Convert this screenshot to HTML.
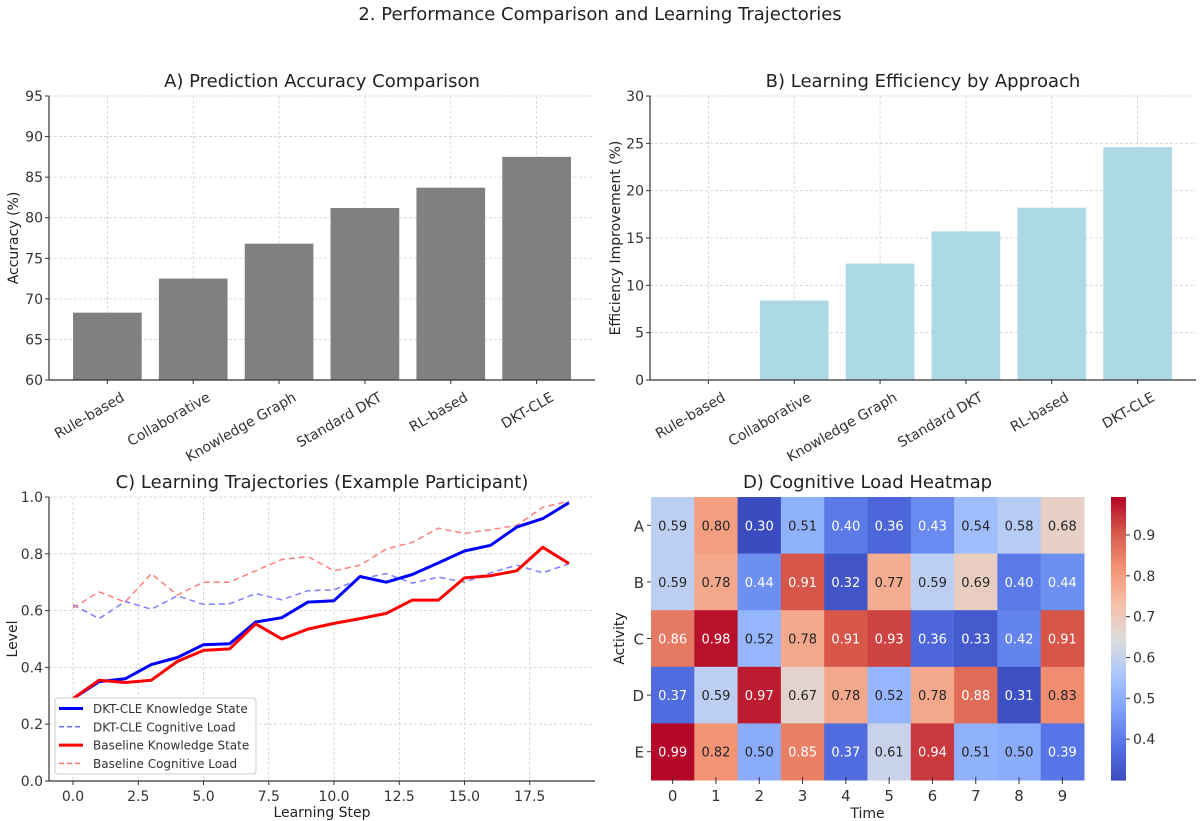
<!DOCTYPE html>
<html><head><meta charset="utf-8">
<style>
html,body{margin:0;padding:0;background:#fff;}
svg{display:block;font-family:"DejaVu Sans","Liberation Sans",sans-serif;}
</style></head>
<body>
<svg id="fig" width="1200" height="821" viewBox="0 0 1200 821">
<text x="600" y="20" text-anchor="middle" font-size="18" fill="#222">2. Performance Comparison and Learning Trajectories</text>
</svg>
<script>
const NS='http://www.w3.org/2000/svg';
const svg=document.getElementById('fig');
function mk(tag,attrs,parent,text){const e=document.createElementNS(NS,tag);for(const k in attrs)e.setAttribute(k,attrs[k]);if(text!==undefined)e.textContent=text;(parent||svg).appendChild(e);return e;}

// ---- data ----
const approaches=['Rule-based','Collaborative','Knowledge Graph','Standard DKT','RL-based','DKT-CLE'];
const accuracy=[68.3,72.5,76.8,81.2,83.7,87.5];
const efficiency=[0,8.4,12.3,15.7,18.2,24.6];
const accTicks=[60,65,70,75,80,85,90,95];
const effTicks=[0,5,10,15,20,25,30];
const dktKnowledge=[0.29,0.35,0.36,0.41,0.435,0.48,0.483,0.56,0.575,0.63,0.635,0.72,0.70,0.727,0.768,0.81,0.83,0.894,0.924,0.98];
const dktLoad=[0.62,0.572,0.632,0.605,0.652,0.622,0.624,0.66,0.638,0.67,0.673,0.712,0.73,0.697,0.718,0.70,0.733,0.76,0.733,0.765];
const baseKnowledge=[0.29,0.355,0.347,0.355,0.421,0.46,0.465,0.553,0.50,0.535,0.555,0.572,0.59,0.637,0.637,0.715,0.723,0.74,0.823,0.766];
const baseLoad=[0.61,0.666,0.63,0.73,0.655,0.70,0.70,0.74,0.78,0.79,0.74,0.76,0.817,0.84,0.89,0.872,0.885,0.90,0.964,0.985];
const lineXTicks=[0,2.5,5,7.5,10,12.5,15,17.5];
const lineYTicks=[0,0.2,0.4,0.6,0.8,1.0];
const activities=['A','B','C','D','E'];
const times=[0,1,2,3,4,5,6,7,8,9];
const loadA=[0.59,0.80,0.30,0.51,0.40,0.36,0.43,0.54,0.58,0.68];
const loadB=[0.59,0.78,0.44,0.91,0.32,0.77,0.59,0.69,0.40,0.44];
const loadC=[0.86,0.98,0.52,0.78,0.91,0.93,0.36,0.33,0.42,0.91];
const loadD=[0.37,0.59,0.97,0.67,0.78,0.52,0.78,0.88,0.31,0.83];
const loadE=[0.99,0.82,0.50,0.85,0.37,0.61,0.94,0.51,0.50,0.39];
const cbTicks=[0.4,0.5,0.6,0.7,0.8,0.9];

const GRID='#d0d0d0';
function barPanel(name,title,X0,X1,Y0,Y1,vmin,vmax,ticks,vals,color,ylabel,slot,ylabX){
  const g=mk('g',{});
  const y=v=>Y1-(v-vmin)/(vmax-vmin)*(Y1-Y0);
  const n=approaches.length;
  const step=(X1-X0)/(n-1+2*0.68);
  const x=i=>X0+step*(0.68+i);
  mk('text',{x:(X0+X1)/2,y:Y0-9,'text-anchor':'middle','font-size':18,fill:'#222',},g,title);
  ticks.forEach(t=>{
    mk('line',{x1:X0,x2:X1,y1:y(t),y2:y(t),stroke:GRID,'stroke-dasharray':'3,2','stroke-width':0.8},g);
    const tl=mk('text',{x:X0-6,y:y(t)+5,'text-anchor':'end','font-size':14,fill:'#333'},g,String(t));
    
    
  });
  approaches.forEach((c,i)=>{
    mk('line',{x1:x(i),x2:x(i),y1:Y0,y2:Y1,stroke:GRID,'stroke-dasharray':'3,2','stroke-width':0.8},g);
  });
  approaches.forEach((c,i)=>{
    const b=mk('rect',{x:x(i)-step*0.4,width:step*0.8,y:y(vals[i]),height:Math.max(0,Y1-y(vals[i])),fill:color},g);
    
    
    mk('line',{x1:x(i),x2:x(i),y1:Y1,y2:Y1+4,stroke:'#333'},g);
    const tl=mk('text',{x:0,y:0,'text-anchor':'end','font-size':14,fill:'#333',transform:`translate(${x(i)+slot},${Y1+20}) rotate(-30)`},g,c);
    
    
  });
  mk('line',{x1:X0,x2:X0,y1:Y0,y2:Y1,stroke:'#333','stroke-width':1.2,},g);
  mk('line',{x1:X0,x2:X1,y1:Y1,y2:Y1,stroke:'#333','stroke-width':1.2,},g);
  ticks.forEach(t=>mk('line',{x1:X0-4,x2:X0,y1:y(t),y2:y(t),stroke:'#333'},g));
  mk('text',{x:0,y:0,'text-anchor':'middle','font-size':14,fill:'#222',transform:`translate(${ylabX},${(Y0+Y1)/2}) rotate(-90)`,},g,ylabel);
}
barPanel('accuracy-chart','A) Prediction Accuracy Comparison',49,595,96,380,60,95,accTicks,accuracy,'#808080','Accuracy (%)',18,18);
barPanel('efficiency-chart','B) Learning Efficiency by Approach',650,1196,96,380,0,30,effTicks,efficiency,'#add8e6','Efficiency Improvement (%)',18,620);

// ---- line chart ----
(function(){
  const X0=49,X1=595,Y0=497,Y1=781;
  const g=mk('g',{});
  const x=v=>73+v*26.1;
  const y=v=>Y1-v*(Y1-Y0);
  mk('text',{x:(X0+X1)/2,y:Y0-9,'text-anchor':'middle','font-size':18,fill:'#222',},g,'C) Learning Trajectories (Example Participant)');
  lineYTicks.forEach(t=>{
    mk('line',{x1:X0,x2:X1,y1:y(t),y2:y(t),stroke:GRID,'stroke-dasharray':'3,2','stroke-width':0.8},g);
    mk('line',{x1:X0-4,x2:X0,y1:y(t),y2:y(t),stroke:'#333'},g);
    const tl=mk('text',{x:X0-6,y:y(t)+5,'text-anchor':'end','font-size':14,fill:'#333'},g,t.toFixed(1));
    
    
  });
  lineXTicks.forEach(t=>{
    mk('line',{x1:x(t),x2:x(t),y1:Y0,y2:Y1,stroke:GRID,'stroke-dasharray':'3,2','stroke-width':0.8},g);
    mk('line',{x1:x(t),x2:x(t),y1:Y1,y2:Y1+4,stroke:'#333'},g);
    const tl=mk('text',{x:x(t),y:Y1+20,'text-anchor':'middle','font-size':14,fill:'#333'},g,t.toFixed(1));
    
    
  });
  const series=[[dktKnowledge,'#0000ff',3,null,1,'dkt-knowledge-line'],[dktLoad,'#7070ff',1.5,'6,4',0.9,'dkt-load-line'],[baseKnowledge,'#ff0000',3,null,1,'baseline-knowledge-line'],[baseLoad,'#ff7070',1.5,'6,4',0.9,'baseline-load-line']];
  [series[1],series[3],series[0],series[2]].forEach(s=>{
    const d=s[0].map((v,i)=>(i?'L':'M')+x(i).toFixed(1)+','+y(v).toFixed(1)).join('');
    const p=mk('path',{d:d,fill:'none',stroke:s[1],'stroke-width':s[2],'stroke-linejoin':'round',opacity:s[4]},g);
    if(s[3])p.setAttribute('stroke-dasharray',s[3]);
    
    
  });
  mk('line',{x1:X0,x2:X0,y1:Y0,y2:Y1,stroke:'#333','stroke-width':1.2},g);
  mk('line',{x1:X0,x2:X1,y1:Y1,y2:Y1,stroke:'#333','stroke-width':1.2},g);
  mk('text',{x:(X0+X1)/2,y:Y1+36,'text-anchor':'middle','font-size':14,fill:'#222',},g,'Learning Step');
  mk('text',{x:0,y:0,'text-anchor':'middle','font-size':14,fill:'#222',transform:`translate(17,${(Y0+Y1)/2}) rotate(-90)`,},g,'Level');
  const lg=mk('g',{},g);
  mk('rect',{x:55,y:698,width:201,height:76,rx:3,fill:'#fff',stroke:'#ccc','fill-opacity':0.85},lg);
  const labels=['DKT-CLE Knowledge State','DKT-CLE Cognitive Load','Baseline Knowledge State','Baseline Cognitive Load'];
  labels.forEach((l,i)=>{
    const s=series[i];const yy=708.5+i*18.3;
    const ln=mk('line',{x1:59,x2:83,y1:yy,y2:yy,stroke:s[1],'stroke-width':s[2]},lg);
    if(s[3])ln.setAttribute('stroke-dasharray','5,3');
    const t=mk('text',{x:93,y:yy+4.5,'font-size':12,fill:'#333'},lg,l);
    
    
  });
})();

// ---- heatmap ----
(function(){
  const X0=651,X1=1084,Y0=497,Y1=780;
  const rows=[loadA,loadB,loadC,loadD,loadE];
  const vmin=0.30,vmax=0.993;
  const g=mk('g',{});
  const cw=(X1-X0)/times.length,ch=(Y1-Y0)/activities.length;
  const stops=[[0,[59,76,192]],[0.125,[85,115,229]],[0.25,[125,160,250]],[0.375,[170,199,253]],[0.5,[221,220,220]],[0.625,[246,191,166]],[0.75,[243,148,117]],[0.875,[215,90,75]],[1,[180,4,38]]];
  function cmap(v){let t=Math.max(0,Math.min(1,(v-vmin)/(vmax-vmin)));for(let i=1;i<stops.length;i++){if(t<=stops[i][0]){const a=stops[i-1],b=stops[i];const f=(t-a[0])/(b[0]-a[0]);return 'rgb('+a[1].map((c,k)=>Math.round(c+(b[1][k]-c)*f)).join(',')+')';}}return 'rgb(180,4,38)';}
  mk('text',{x:(X0+X1)/2,y:Y0-9,'text-anchor':'middle','font-size':18,fill:'#222',},g,'D) Cognitive Load Heatmap');
  rows.forEach((r,ri)=>{
    r.forEach((v,ci)=>{
      const c=mk('rect',{x:X0+ci*cw,y:Y0+ri*ch,width:cw+0.5,height:ch+0.5,fill:cmap(v)},g);
      
      
      const t=mk('text',{x:X0+(ci+0.5)*cw,y:Y0+(ri+0.5)*ch+5,'text-anchor':'middle','font-size':13,fill:(v<0.45||v>0.84)?'#fff':'#262626'},g,v.toFixed(2));
      
      
    });
    mk('line',{x1:X0-4,x2:X0,y1:Y0+(ri+0.5)*ch,y2:Y0+(ri+0.5)*ch,stroke:'#333'},g);
    const tl=mk('text',{x:X0-7,y:Y0+(ri+0.5)*ch+6,'text-anchor':'end','font-size':15,fill:'#333'},g,activities[ri]);
    
    
  });
  times.forEach((t,ci)=>{
    mk('line',{x1:X0+(ci+0.5)*cw,x2:X0+(ci+0.5)*cw,y1:Y1-3,y2:Y1+4,stroke:'#333'},g);
    const tl=mk('text',{x:X0+(ci+0.5)*cw,y:Y1+21,'text-anchor':'middle','font-size':15,fill:'#333'},g,String(t));
    
    
  });
  mk('text',{x:(X0+X1)/2,y:Y1+38,'text-anchor':'middle','font-size':14,fill:'#222',},g,'Time');
  mk('text',{x:0,y:0,'text-anchor':'middle','font-size':14,fill:'#222',transform:`translate(624,${(Y0+Y1)/2}) rotate(-90)`,},g,'Activity');
  // colorbar
  const cb=mk('g',{});
  const CX=1111,CW=15;const n=100;
  for(let i=0;i<n;i++){const v=vmin+(vmax-vmin)*(i+0.5)/n;const yy=Y1-(i+1)*(Y1-Y0)/n;mk('rect',{x:CX,y:yy,width:CW,height:(Y1-Y0)/n+0.6,fill:cmap(v)},cb);}
  cbTicks.forEach(t=>{
    const yy=Y1-(t-vmin)/(vmax-vmin)*(Y1-Y0);
    mk('line',{x1:CX+CW,x2:CX+CW+4,y1:yy,y2:yy,stroke:'#333'},cb);
    const tl=mk('text',{x:CX+CW+7,y:yy+5,'font-size':14,fill:'#333'},cb,t.toFixed(1));
    
    
  });
})();
</script>
</body></html>
